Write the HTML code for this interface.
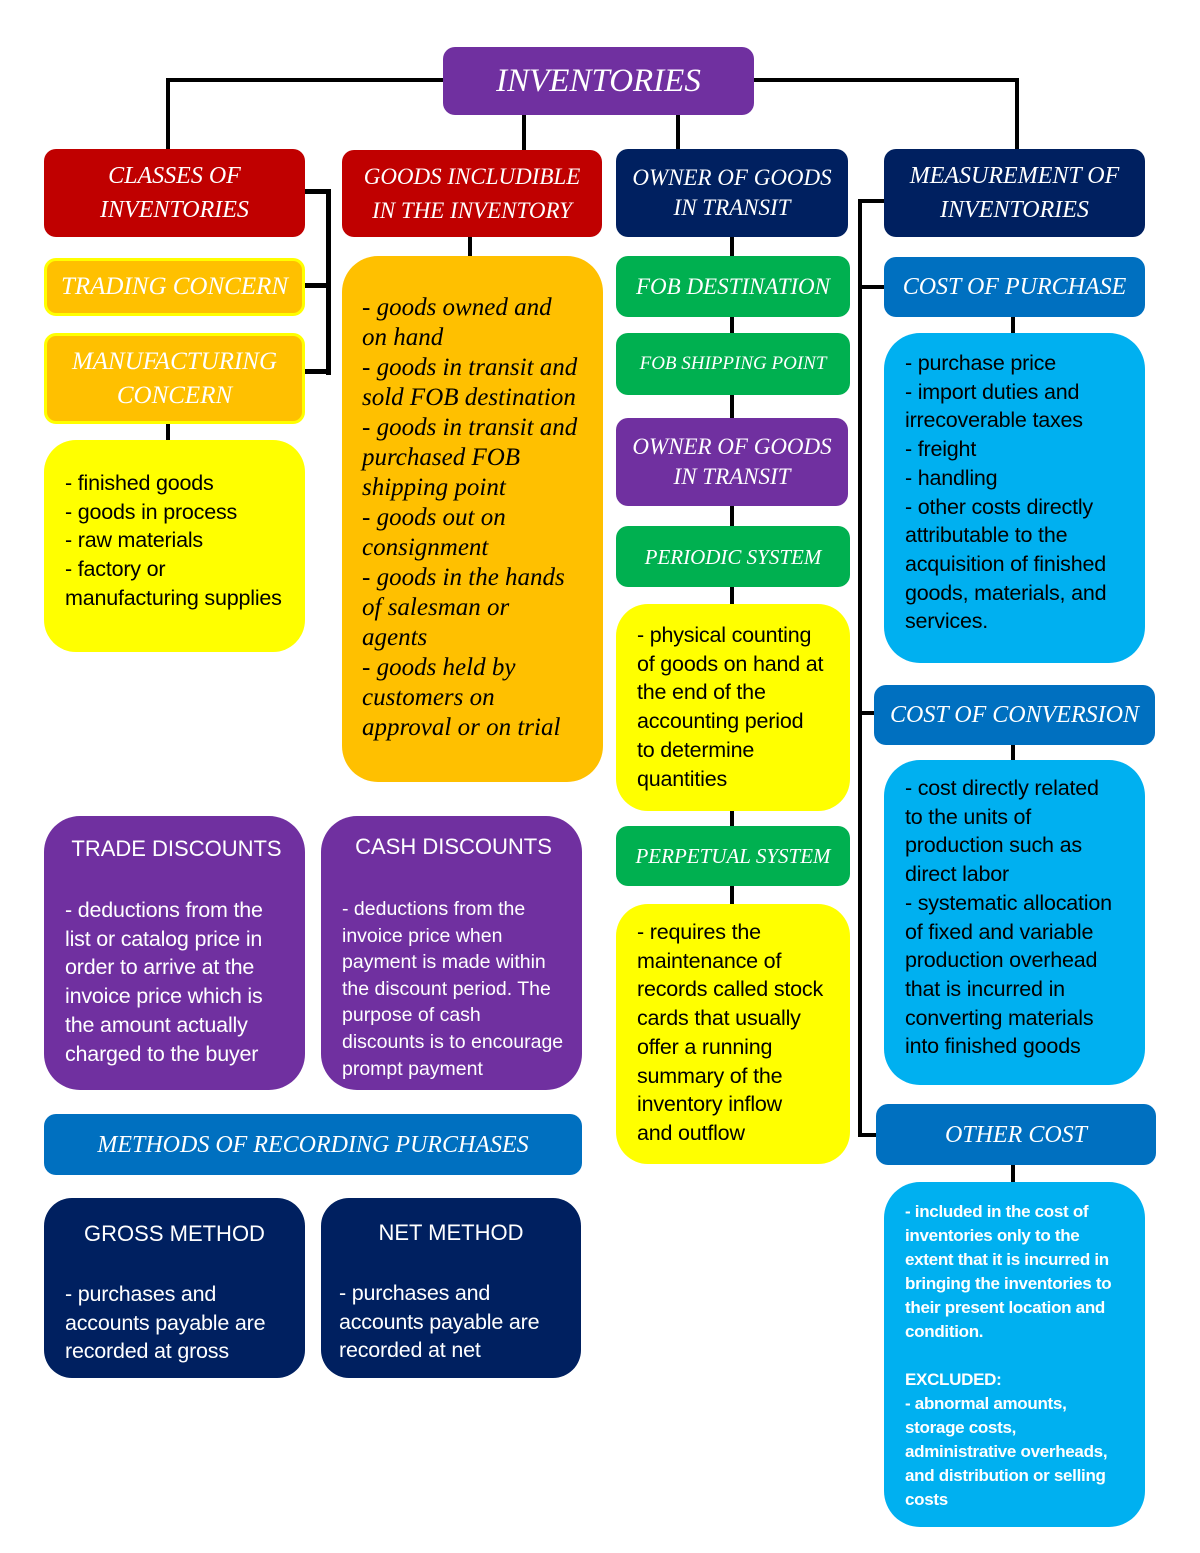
<!DOCTYPE html>
<html><head><meta charset="utf-8"><style>
body{margin:0;width:1200px;height:1553px;background:#fff;position:relative;overflow:hidden}
.b{position:absolute;box-sizing:border-box;border-radius:12px}
.h{font-family:"Liberation Serif",serif;font-style:italic;color:#fff;text-align:center;display:flex;align-items:center;justify-content:center;line-height:34px;font-size:24px}
.t{font-family:"Liberation Sans",sans-serif;font-size:21.5px;line-height:28.7px;color:#000;padding-left:21px;letter-spacing:-0.2px;white-space:nowrap}
.l{position:absolute;background:#000}
.pu{background:#7030a0}.rd{background:#c00000}.nv{background:#002060}.gr{background:#00b050}
.or{background:#ffc000}.ye{background:#ffff00}.bl{background:#0070c0}.lb{background:#00b0f0}
</style></head><body>
<div class="l" style="left:166px;top:78px;width:280px;height:4px"></div>
<div class="l" style="left:166px;top:78px;width:4px;height:74px"></div>
<div class="l" style="left:752px;top:78px;width:267px;height:4px"></div>
<div class="l" style="left:1015px;top:78px;width:4px;height:74px"></div>
<div class="l" style="left:522px;top:112px;width:4px;height:40px"></div>
<div class="l" style="left:676px;top:112px;width:4px;height:40px"></div>
<div class="l" style="left:303px;top:189px;width:28px;height:5px"></div>
<div class="l" style="left:326px;top:189px;width:5px;height:186px"></div>
<div class="l" style="left:303px;top:283px;width:28px;height:5px"></div>
<div class="l" style="left:303px;top:369px;width:28px;height:5px"></div>
<div class="l" style="left:166px;top:422px;width:4px;height:20px"></div>
<div class="l" style="left:468px;top:235px;width:4px;height:24px"></div>
<div class="l" style="left:730px;top:235px;width:4px;height:560px"></div>
<div class="l" style="left:730px;top:800px;width:4px;height:110px"></div>
<div class="l" style="left:858px;top:199px;width:4px;height:938px"></div>
<div class="l" style="left:858px;top:199px;width:28px;height:4px"></div>
<div class="l" style="left:858px;top:285px;width:28px;height:4px"></div>
<div class="l" style="left:858px;top:711px;width:18px;height:4px"></div>
<div class="l" style="left:858px;top:1133px;width:20px;height:4px"></div>
<div class="l" style="left:1011px;top:315px;width:4px;height:20px"></div>
<div class="l" style="left:1011px;top:743px;width:4px;height:20px"></div>
<div class="l" style="left:1011px;top:1163px;width:4px;height:22px"></div>

<div class="b h pu" style="left:443px;top:47px;width:311px;height:68px;font-size:33px">INVENTORIES</div>
<div class="b h rd" style="left:44px;top:149px;width:261px;height:88px">CLASSES OF<br>INVENTORIES</div>
<div class="b h rd" style="left:342px;top:150px;width:260px;height:87px;font-size:23px">GOODS INCLUDIBLE<br>IN THE INVENTORY</div>
<div class="b h nv" style="left:616px;top:149px;width:232px;height:88px;font-size:23px;line-height:30px">OWNER OF GOODS<br>IN TRANSIT</div>
<div class="b h nv" style="left:884px;top:149px;width:261px;height:88px">MEASUREMENT OF<br>INVENTORIES</div>

<div class="b h or" style="left:44px;top:258px;width:261px;height:58px;border:3px solid #ffff00;font-size:25px">TRADING CONCERN</div>
<div class="b h or" style="left:44px;top:333px;width:261px;height:91px;border:3px solid #ffff00;font-size:25px">MANUFACTURING<br>CONCERN</div>
<div class="b t ye" style="left:44px;top:440px;width:261px;height:212px;border-radius:32px;padding-top:29px">- finished goods<br>- goods in process<br>- raw materials<br>- factory or<br>manufacturing supplies</div>

<div class="b or" style="left:342px;top:256px;width:261px;height:526px;border-radius:36px;font-family:'Liberation Serif',serif;font-style:italic;font-size:25px;line-height:30px;padding:37px 0 0 20px;box-sizing:border-box;white-space:nowrap">- goods owned and<br>on hand<br>- goods in transit and<br>sold FOB destination<br>- goods in transit and<br>purchased FOB<br>shipping point<br>- goods out on<br>consignment<br>- goods in the hands<br>of salesman or<br>agents<br>- goods held by<br>customers on<br>approval or on trial</div>

<div class="b h gr" style="left:616px;top:256px;width:234px;height:61px;font-size:23px">FOB DESTINATION</div>
<div class="b h gr" style="left:616px;top:333px;width:234px;height:62px;font-size:19px">FOB SHIPPING POINT</div>
<div class="b h pu" style="left:616px;top:418px;width:232px;height:88px;font-size:23px;line-height:30px">OWNER OF GOODS<br>IN TRANSIT</div>
<div class="b h gr" style="left:616px;top:526px;width:234px;height:61px;font-size:21px">PERIODIC SYSTEM</div>
<div class="b t ye" style="left:616px;top:604px;width:234px;height:207px;border-radius:32px;padding-top:17px">- physical counting<br>of goods on hand at<br>the end of the<br>accounting period<br>to determine<br>quantities</div>
<div class="b h gr" style="left:616px;top:826px;width:234px;height:60px;font-size:21px">PERPETUAL SYSTEM</div>
<div class="b t ye" style="left:616px;top:904px;width:234px;height:260px;border-radius:32px;padding-top:14px">- requires the<br>maintenance of<br>records called stock<br>cards that usually<br>offer a running<br>summary of the<br>inventory inflow<br>and outflow</div>

<div class="b h bl" style="left:884px;top:257px;width:261px;height:60px">COST OF PURCHASE</div>
<div class="b t lb" style="left:884px;top:333px;width:261px;height:330px;border-radius:36px;padding-top:16px">- purchase price<br>- import duties and<br>irrecoverable taxes<br>- freight<br>- handling<br>- other costs directly<br>attributable to the<br>acquisition of finished<br>goods, materials, and<br>services.</div>
<div class="b h bl" style="left:874px;top:685px;width:281px;height:60px">COST OF CONVERSION</div>
<div class="b t lb" style="left:884px;top:760px;width:261px;height:325px;border-radius:36px;padding-top:14px">- cost directly related<br>to the units of<br>production such as<br>direct labor<br>- systematic allocation<br>of fixed and variable<br>production overhead<br>that is incurred in<br>converting materials<br>into finished goods</div>
<div class="b h bl" style="left:876px;top:1104px;width:280px;height:61px">OTHER COST</div>
<div class="b t lb" style="left:884px;top:1182px;width:261px;height:345px;border-radius:36px;padding-top:18px;font-size:17px;line-height:24px;color:#fff;font-weight:bold;letter-spacing:-0.3px">- included in the cost of<br>inventories only to the<br>extent that it is incurred in<br>bringing the inventories to<br>their present location and<br>condition.<br><br>EXCLUDED:<br>- abnormal amounts,<br>storage costs,<br>administrative overheads,<br>and distribution or selling<br>costs</div>

<div class="b t pu" style="left:44px;top:816px;width:261px;height:274px;border-radius:36px;color:#fff;padding-top:80px">- deductions from the<br>list or catalog price in<br>order to arrive at the<br>invoice price which is<br>the amount actually<br>charged to the buyer</div>
<div style="position:absolute;left:44px;top:836px;width:265px;text-align:center;color:#fff;font-family:'Liberation Sans',sans-serif;font-size:22px">TRADE DISCOUNTS</div>
<div class="b t pu" style="left:321px;top:816px;width:261px;height:274px;border-radius:36px;color:#fff;padding-top:80px;font-size:19.5px;line-height:26.6px;letter-spacing:0">- deductions from the<br>invoice price when<br>payment is made within<br>the discount period. The<br>purpose of cash<br>discounts is to encourage<br>prompt payment</div>
<div style="position:absolute;left:321px;top:834px;width:265px;text-align:center;color:#fff;font-family:'Liberation Sans',sans-serif;font-size:22px">CASH DISCOUNTS</div>

<div class="b h bl" style="left:44px;top:1114px;width:538px;height:61px">METHODS OF RECORDING PURCHASES</div>

<div class="b t nv" style="left:44px;top:1198px;width:261px;height:180px;border-radius:28px;color:#fff;padding-top:82px">- purchases and<br>accounts payable are<br>recorded at gross</div>
<div style="position:absolute;left:44px;top:1221px;width:261px;text-align:center;color:#fff;font-family:'Liberation Sans',sans-serif;font-size:22px">GROSS METHOD</div>
<div class="b t nv" style="left:321px;top:1198px;width:260px;height:180px;border-radius:28px;color:#fff;padding-top:81px;padding-left:18px">- purchases and<br>accounts payable are<br>recorded at net</div>
<div style="position:absolute;left:321px;top:1220px;width:260px;text-align:center;color:#fff;font-family:'Liberation Sans',sans-serif;font-size:22px">NET METHOD</div>
</body></html>
